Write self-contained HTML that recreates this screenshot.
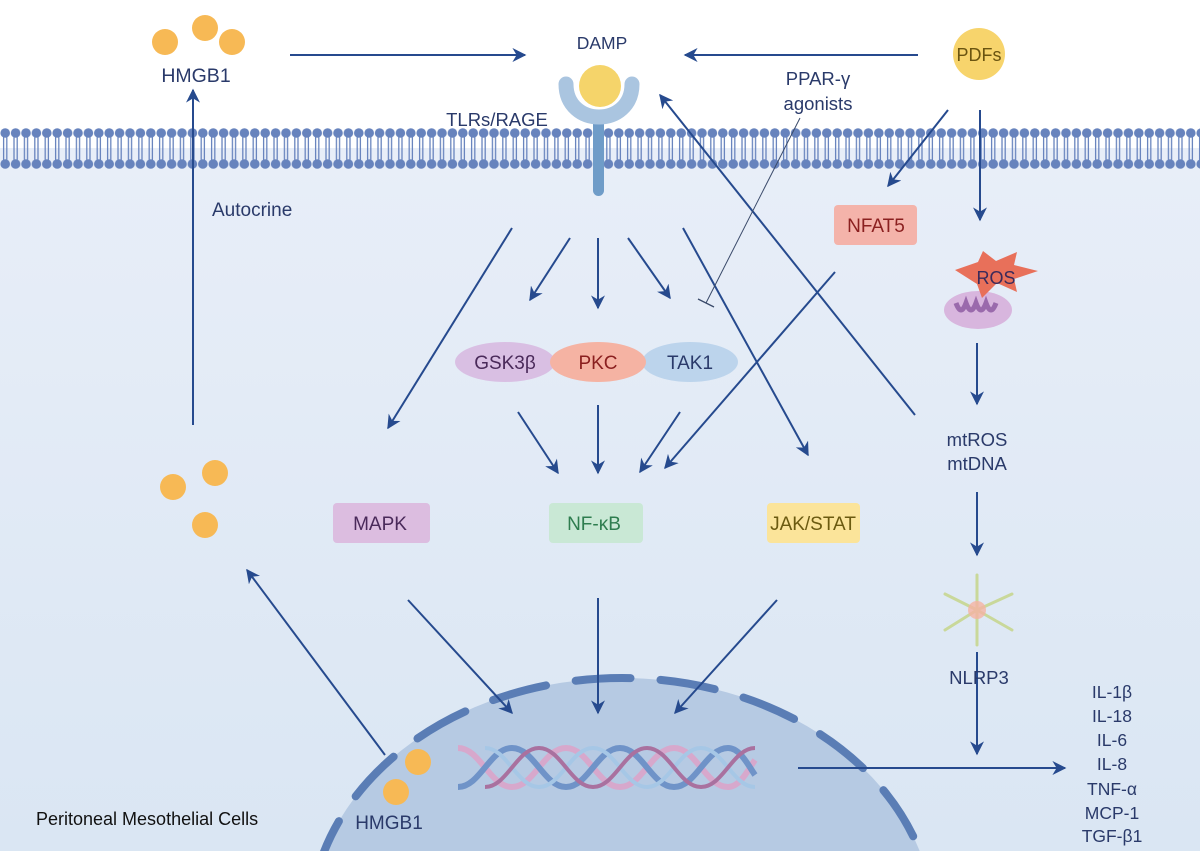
<!DOCTYPE html>
<html><head><meta charset="utf-8"><style>
html,body{margin:0;padding:0;background:#fff;overflow:hidden;width:1200px;height:851px}
svg{display:block}
text{font-family:"Liberation Sans",sans-serif;fill:#2a3a6a}
</style></head><body>
<svg width="1200" height="851" viewBox="0 0 1200 851" xmlns="http://www.w3.org/2000/svg">
<defs>
<linearGradient id="cyt" x1="0" y1="0" x2="0" y2="1">
<stop offset="0" stop-color="#e8eef8"/><stop offset="1" stop-color="#dae6f3"/>
</linearGradient>
<pattern id="mem" x="0" y="126" width="10.4" height="46" patternUnits="userSpaceOnUse">
<circle cx="5.2" cy="7" r="4.8" fill="#6783bd"/>
<circle cx="5.2" cy="38" r="4.8" fill="#6783bd"/>
<line x1="3.6" y1="11" x2="3.6" y2="34" stroke="#6783bd" stroke-width="1.3"/>
<line x1="6.8" y1="11" x2="6.8" y2="34" stroke="#6783bd" stroke-width="1.3"/>
</pattern>
<marker id="ah2" viewBox="0 0 10 10" refX="9" refY="5" markerWidth="14" markerHeight="14" orient="auto" markerUnits="userSpaceOnUse">
<path d="M0,0 L10,5 L0,10 L3,5 z" fill="#264a8e"/>
</marker>
</defs>
<rect width="1200" height="851" fill="#fff"/>
<rect y="148" width="1200" height="703" fill="url(#cyt)"/>
<rect y="126" width="1200" height="46" fill="url(#mem)"/>

<!-- nucleus -->
<ellipse cx="622" cy="925" rx="312" ry="247" fill="#b6cae3"/>
<ellipse cx="622" cy="925" rx="312" ry="247" fill="none" stroke="#5a7db5" stroke-width="8" stroke-linecap="round" stroke-dasharray="55 30"/>

<!-- DNA -->
<g fill="none" stroke-width="6">
<path d="M458,748 C480,748 490,787 512,787 C534,787 544,748 566,748 C588,748 598,787 620,787 C642,787 652,748 674,748 C696,748 706,787 728,787 C740,787 748,770 755,760" stroke="#d7a8cc"/>
<path d="M458,787 C480,787 490,748 512,748 C534,748 544,787 566,787 C588,787 598,748 620,748 C642,748 652,787 674,787 C696,787 706,748 728,748 C740,748 748,765 755,775" stroke="#6f93c8"/>
<path d="M485,748 C507,748 517,787 539,787 C561,787 571,748 593,748 C615,748 625,787 647,787 C669,787 679,748 701,748 C723,748 733,787 755,787" stroke="#a6c7e6" stroke-width="4"/>
<path d="M485,787 C507,787 517,748 539,748 C561,748 571,787 593,787 C615,787 625,748 647,748 C669,748 679,787 701,787 C723,787 733,748 755,748" stroke="#a9719f" stroke-width="4"/>
</g>

<!-- receptor -->
<rect x="593" y="110" width="11" height="86" rx="5.5" fill="#6f9cc8"/>
<path d="M566,84 C566,128 632,128 632,84" fill="none" stroke="#aac5e0" stroke-width="15" stroke-linecap="round"/>
<circle cx="600" cy="86" r="21" fill="#f5d46a"/>

<!-- HMGB1 balls -->
<g fill="#f7b955">
<circle cx="165" cy="42" r="13"/><circle cx="205" cy="28" r="13"/><circle cx="232" cy="42" r="13"/>
<circle cx="173" cy="487" r="13"/><circle cx="215" cy="473" r="13"/><circle cx="205" cy="525" r="13"/>
<circle cx="418" cy="762" r="13"/><circle cx="396" cy="792" r="13"/>
</g>
<!-- PDFs -->
<circle cx="979" cy="54" r="26" fill="#f7d46c"/>
<text x="979" y="61" font-size="18" text-anchor="middle" style="fill:#6a5410">PDFs</text>

<!-- arrows -->
<g stroke="#264a8e" stroke-width="2" fill="none" marker-end="url(#ah2)">
<line x1="290" y1="55" x2="525" y2="55"/>
<line x1="918" y1="55" x2="685" y2="55"/>
<line x1="948" y1="110" x2="888" y2="186"/>
<line x1="980" y1="110" x2="980" y2="220"/>
<line x1="915" y1="415" x2="660" y2="95"/>
<line x1="193" y1="425" x2="193" y2="90"/>
<line x1="512" y1="228" x2="388" y2="428"/>
<line x1="570" y1="238" x2="530" y2="300"/>
<line x1="598" y1="238" x2="598" y2="308"/>
<line x1="628" y1="238" x2="670" y2="298"/>
<line x1="683" y1="228" x2="808" y2="455"/>
<line x1="518" y1="412" x2="558" y2="473"/>
<line x1="598" y1="405" x2="598" y2="473"/>
<line x1="680" y1="412" x2="640" y2="472"/>
<line x1="835" y1="272" x2="665" y2="468"/>
<line x1="977" y1="343" x2="977" y2="404"/>
<line x1="977" y1="492" x2="977" y2="555"/>
<line x1="977" y1="652" x2="977" y2="754"/>
<line x1="798" y1="768" x2="1065" y2="768"/>
<line x1="408" y1="600" x2="512" y2="713"/>
<line x1="598" y1="598" x2="598" y2="713"/>
<line x1="777" y1="600" x2="675" y2="713"/>
<line x1="385" y1="755" x2="247" y2="570"/>
</g>
<!-- inhibitor -->
<line x1="800" y1="118" x2="706" y2="303" stroke="#3a4a6a" stroke-width="1"/>
<line x1="698" y1="299" x2="714" y2="307" stroke="#3a4a6a" stroke-width="1.3"/>

<!-- ellipses -->
<ellipse cx="505" cy="362" rx="50" ry="20" fill="#d9bfe3"/>
<ellipse cx="690" cy="362" rx="48" ry="20" fill="#bcd4ec"/>
<ellipse cx="598" cy="362" rx="48" ry="20" fill="#f5b3a3"/>
<text x="505" y="369" font-size="19" text-anchor="middle" style="fill:#4a2a5a">GSK3β</text>
<text x="598" y="369" font-size="19" text-anchor="middle" style="fill:#8a1f1f">PKC</text>
<text x="690" y="369" font-size="19" text-anchor="middle" style="fill:#2a3a6a">TAK1</text>

<!-- boxes -->
<rect x="333" y="503" width="97" height="40" rx="4" fill="#dcbde0"/>
<text x="380" y="530" font-size="19" text-anchor="middle" style="fill:#4a2a5a">MAPK</text>
<rect x="549" y="503" width="94" height="40" rx="4" fill="#c9e8d5"/>
<text x="594" y="530" font-size="19" text-anchor="middle" style="fill:#2e7d4f">NF-κB</text>
<rect x="767" y="503" width="93" height="40" rx="4" fill="#fbe49a"/>
<text x="813" y="530" font-size="19" text-anchor="middle" style="fill:#6b5a10">JAK/STAT</text>
<rect x="834" y="205" width="83" height="40" rx="4" fill="#f4b3aa"/>
<text x="876" y="232" font-size="19" text-anchor="middle" style="fill:#8b2020">NFAT5</text>

<!-- ROS + mito -->
<ellipse cx="978" cy="310" rx="34" ry="19" fill="#d8b6de"/>
<path d="M956,303 q5,14 10,0 q5,14 10,0 q5,14 10,0 q5,14 10,0" fill="none" stroke="#9a6aac" stroke-width="5"/>
<polygon points="955,270 978,262 983,251 996,261 1017,252 1014,265 1038,271 1014,279 1017,292 997,283 982,298 977,284" fill="#e8705a"/>
<text x="996" y="284" font-size="18" text-anchor="middle" style="fill:#3a2a5a">ROS</text>

<!-- NLRP3 icon -->
<g stroke-width="3" stroke-linecap="round">
<line x1="977" y1="610" x2="977" y2="575" stroke="#c9d89a"/>
<line x1="977" y1="610" x2="977" y2="645" stroke="#c9d89a"/>
<line x1="977" y1="610" x2="945" y2="594" stroke="#c9d89a"/>
<line x1="977" y1="610" x2="1012" y2="594" stroke="#c9d89a"/>
<line x1="977" y1="610" x2="945" y2="630" stroke="#c9d89a"/>
<line x1="977" y1="610" x2="1012" y2="630" stroke="#c9d89a"/>
</g>
<circle cx="977" cy="610" r="9" fill="#f5b3a3" opacity="0.8"/>

<!-- labels -->
<g font-size="18.5">
<text x="196" y="82" text-anchor="middle" font-size="19.5">HMGB1</text>
<text x="602" y="49" text-anchor="middle" font-size="17.5">DAMP</text>
<text x="497" y="126" text-anchor="middle">TLRs/RAGE</text>
<text x="818" y="85" text-anchor="middle">PPAR-γ</text>
<text x="818" y="110" text-anchor="middle">agonists</text>
<text x="212" y="216" font-size="19">Autocrine</text>
<text x="977" y="446" text-anchor="middle">mtROS</text>
<text x="977" y="470" text-anchor="middle">mtDNA</text>
<text x="979" y="684" text-anchor="middle">NLRP3</text>
<text x="389" y="829" text-anchor="middle" font-size="19">HMGB1</text>
<text x="36" y="825" font-size="18" style="fill:#111">Peritoneal Mesothelial Cells</text>
<g font-size="17.5">
<text x="1112" y="698" text-anchor="middle">IL-1β</text>
<text x="1112" y="722" text-anchor="middle">IL-18</text>
<text x="1112" y="746" text-anchor="middle">IL-6</text>
<text x="1112" y="770" text-anchor="middle">IL-8</text>
<text x="1112" y="795" text-anchor="middle">TNF-α</text>
<text x="1112" y="819" text-anchor="middle">MCP-1</text>
<text x="1112" y="842" text-anchor="middle">TGF-β1</text>
</g>
</g>
</svg>
</body></html>
